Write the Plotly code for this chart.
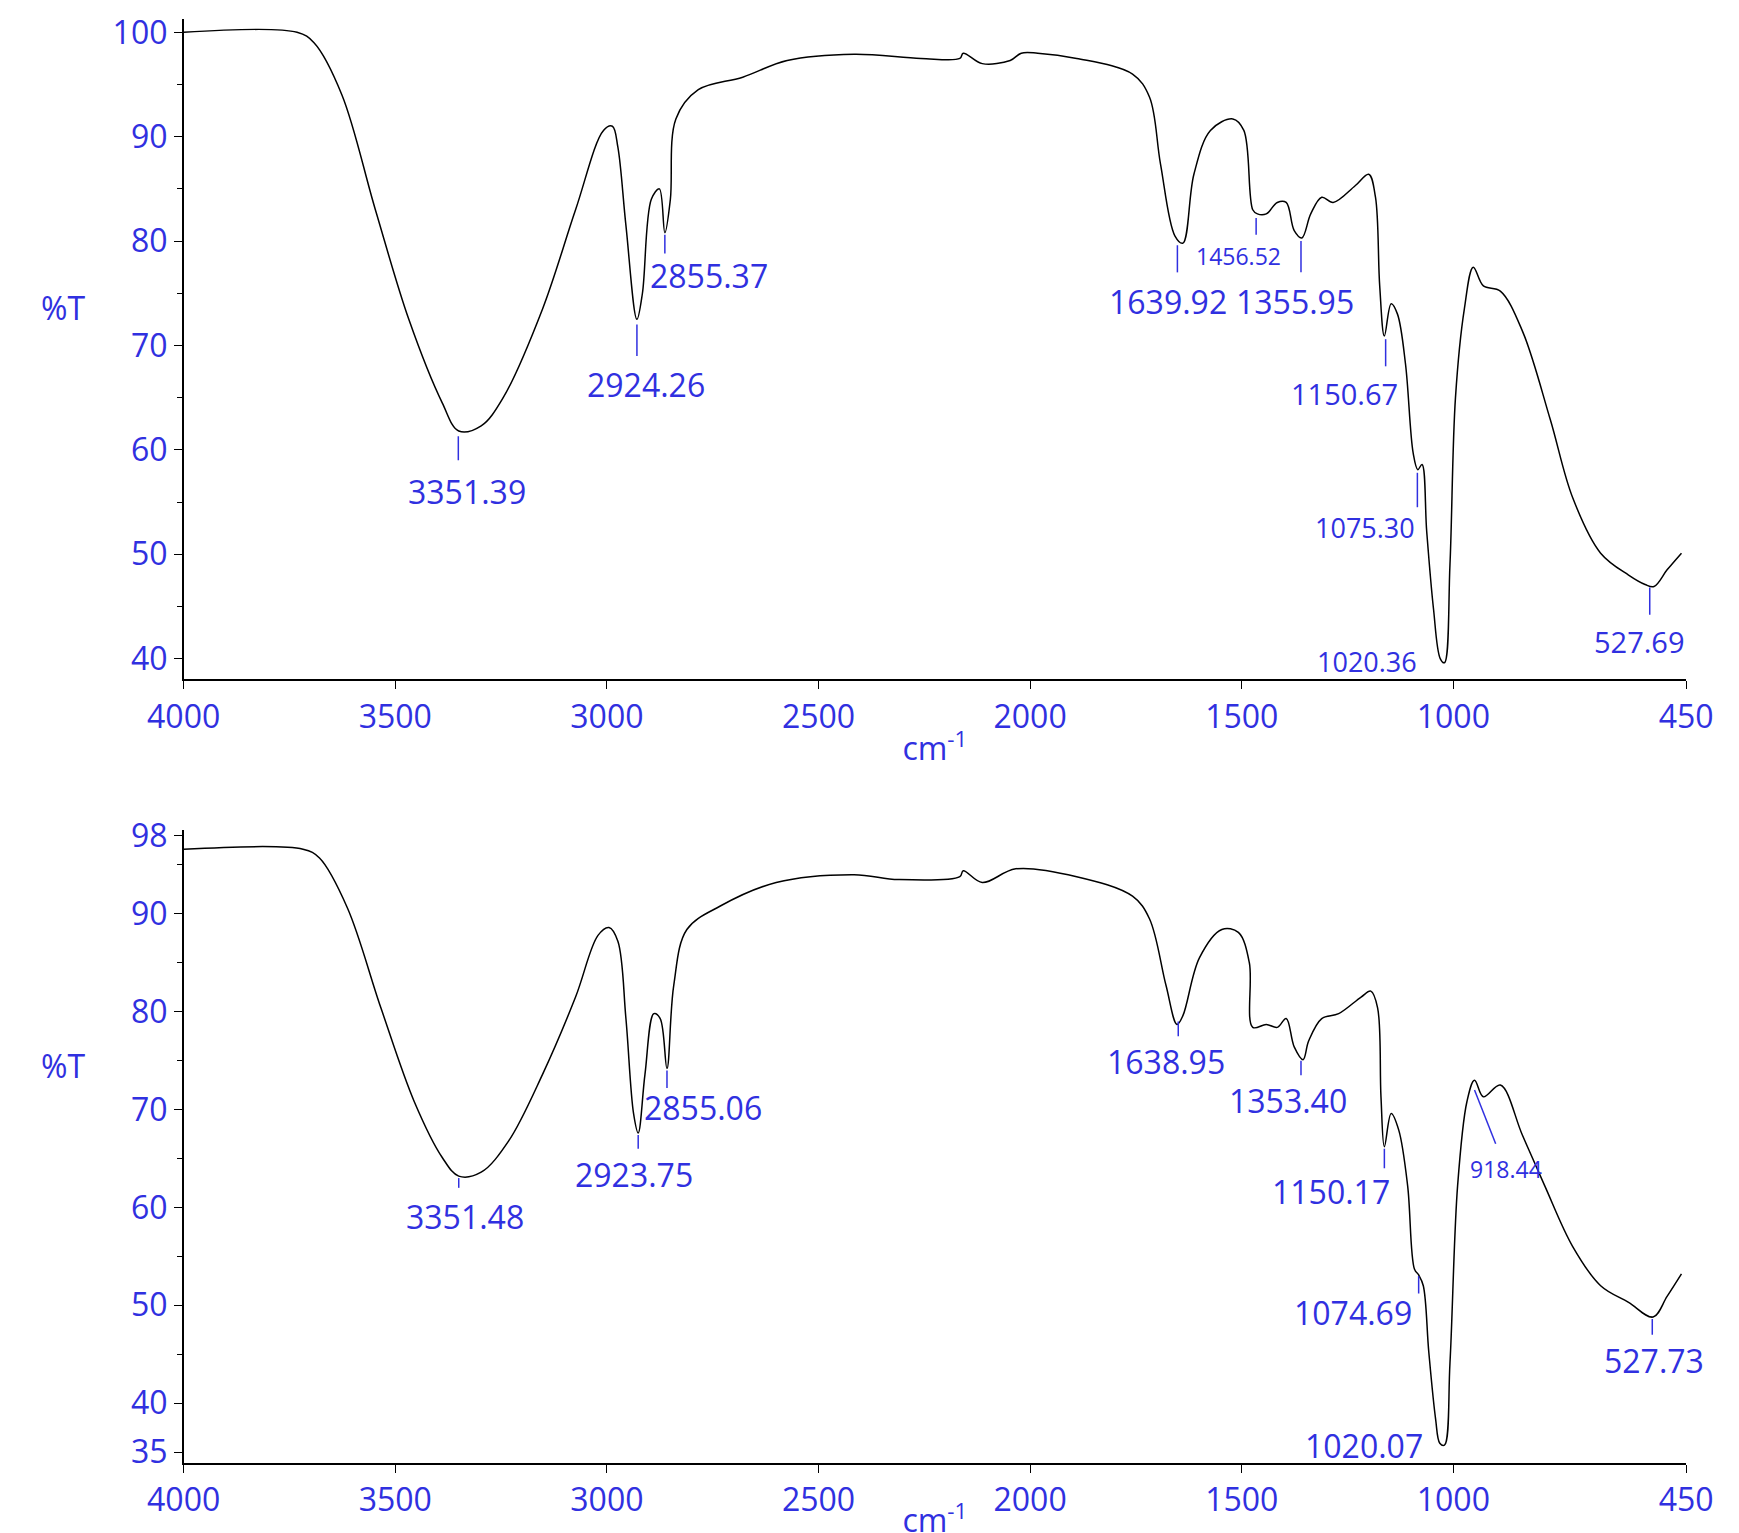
import plotly.graph_objects as go
from plotly.subplots import make_subplots

# wavenumber (cm-1) and transmittance (%T)
wn_top = [4000, 3732, 3692, 3626, 3547, 3468, 3389, 3350, 3297, 3245, 3152, 3074, 3008, 2987, 2974,
          2955, 2929, 2916, 2895, 2876, 2863, 2850, 2837, 2784, 2679, 2574, 2416, 2258, 2166, 2158,
          2113, 2047, 2021, 1982, 1890, 1758, 1718, 1692, 1658, 1639, 1613, 1574, 1521, 1495, 1474,
          1463, 1442, 1416, 1395, 1376, 1358, 1337, 1311, 1284, 1232, 1200, 1184, 1174, 1163, 1147,
          1132, 1113, 1095, 1084, 1074, 1063, 1047, 1031, 1021, 1008, 995, 974, 953, 929, 889,
          837, 771, 718, 652, 586, 547, 526, 495, 461]
t_top = [100, 100, 99, 94, 83, 72.5, 64.5, 61.8, 62.3, 65, 73.5, 83, 90.6, 91, 89,
         81.5, 72.5, 75, 84, 85, 80.8, 84, 91.7, 94.5, 95.7, 97.3, 97.9, 97.5, 97.5, 98,
         97, 97.3, 98, 98, 97.5, 96, 93.8, 87.4, 80.5, 79.8, 86.4, 90.6, 91.7, 90.6, 83,
         82.6, 82.6, 83.7, 83.7, 81, 80.3, 82.6, 84.2, 83.7, 85.3, 86.4, 84.2, 75.7, 70.9, 74,
         73, 68.2, 59.7, 58.1, 58.6, 52.2, 44.8, 40, 39.6, 49, 65, 73.5, 77.5, 75.7, 75.2,
         71.4, 62.9, 55.4, 50.1, 48, 47.1, 46.9, 48.5, 50.1]

wn_bot = [4000, 3718, 3679, 3613, 3534, 3455, 3389, 3350, 3297, 3232, 3152, 3074, 3021, 2995, 2974,
          2955, 2937, 2926, 2910, 2889, 2874, 2858, 2842, 2811, 2732, 2600, 2416, 2311, 2166, 2158,
          2113, 2034, 1890, 1758, 1718, 1679, 1653, 1639, 1600, 1547, 1508, 1482, 1474, 1442, 1416,
          1395, 1376, 1355, 1342, 1311, 1271, 1218, 1195, 1179, 1171, 1163, 1147, 1129, 1108, 1092,
          1082, 1071, 1058, 1042, 1032, 1021, 1008, 990, 968, 950, 929, 889, 837, 784, 718,
          652, 586, 528, 495, 461]
t_bot = [96.6, 96.6, 95.7, 90.6, 80.4, 70.8, 65.1, 63.2, 63.6, 66.8, 73.6, 81.5, 87.8, 88.6, 87.2,
         79.3, 69.6, 67.6, 73.6, 79.8, 79.3, 74.2, 82.7, 88.4, 90.8, 93.2, 94, 93.5, 93.8, 94.4,
         93.2, 94.6, 93.8, 91.8, 89.5, 82.7, 78.7, 79.6, 85.5, 88.4, 88.1, 85, 78.4, 78.7, 78.4,
         79.3, 76.4, 75.1, 77, 79.3, 79.8, 81.5, 82.1, 80.4, 71.3, 66.2, 69.6, 67.9, 62.2, 53.7,
         53.1, 52, 45.2, 38.4, 35.9, 35.7, 44.1, 62.2, 70.8, 73, 71.3, 72.5, 67.4, 62.2, 56,
         52, 50.3, 48.8, 50.9, 53.2]

# peak labels: (label, line x, line y0, line y1, text x, text y, size, anchor)
peaks_top = [
    ("3351.39", 3351, 61.3, 59.0, 3330, 58.3, 32, "center"),
    ("2924.26", 2929, 72.0, 69.0, 2908, 68.5, 32, "center"),
    ("2855.37", 2863, 80.6, 78.8, 2903, 79.0, 32, "left"),
    ("1639.92", 1652, 79.6, 77.0, 1675, 76.5, 32, "center"),
    ("1456.52", 1466, 82.2, 80.6, 1508, 80.3, 23, "center"),
    ("1355.95", 1360, 80.0, 77.0, 1375, 76.5, 32, "center"),
    ("1150.67", 1160, 70.6, 68.0, 1257, 67.5, 29, "center"),
    ("1075.30", 1085, 57.8, 54.5, 1208, 54.5, 27, "center"),
    ("1020.36", 1024, 39.8, 39.5, 1205, 39.7, 27, "center"),
    ("527.69", 536, 46.8, 44.2, 560, 43.7, 29, "center"),
]
peaks_bot = [
    ("3351.48", 3350, 63.0, 62.0, 3336, 61.5, 32, "center"),
    ("2923.75", 2926, 67.4, 66.0, 2937, 65.8, 32, "center"),
    ("2855.06", 2858, 74.0, 72.2, 2916, 72.6, 32, "left"),
    ("1638.95", 1650, 79.0, 77.5, 1680, 77.3, 32, "center"),
    ("1353.40", 1360, 75.0, 73.5, 1390, 73.3, 32, "center"),
    ("1150.17", 1163, 66.0, 64.0, 1290, 64.0, 32, "center"),
    ("918.44", 950, 72.0, 66.5, 876, 65.8, 23, "center"),
    ("1074.69", 1082, 53.0, 51.2, 1237, 51.7, 32, "center"),
    ("1020.07", 1024, 35.6, 35.5, 1210, 35.7, 32, "center"),
    ("527.73", 530, 48.6, 47.0, 526, 46.8, 32, "center"),
]

BLUE = "#3030e0"
FONT = "Open Sans"

fig = make_subplots(rows=2, cols=1, vertical_spacing=0.1)
fig.add_trace(go.Scatter(x=wn_top, y=t_top, mode="lines", line=dict(color="black", width=1.5),
                         line_shape="spline", showlegend=False), row=1, col=1)
fig.add_trace(go.Scatter(x=wn_bot, y=t_bot, mode="lines", line=dict(color="black", width=1.5),
                         line_shape="spline", showlegend=False), row=2, col=1)

for i, peaks in ((1, peaks_top), (2, peaks_bot)):
    xr = "x" if i == 1 else "x2"
    yr = "y" if i == 1 else "y2"
    for lab, lx, y0, y1, tx, ty, size, anch in peaks:
        if y0 - y1 > 0.5:
            x1 = 900 if lab == "918.44" else lx
            fig.add_shape(type="line", xref=xr, yref=yr, x0=lx, x1=x1, y0=y0, y1=y1,
                          line=dict(color=BLUE, width=1.5))
        yanch = "middle" if lab.startswith("1020") else "top"
        fig.add_annotation(xref=xr, yref=yr, x=tx, y=ty, text=lab, showarrow=False,
                           xanchor=anch, yanchor=yanch, font=dict(family=FONT, size=size, color=BLUE))

axis_common = dict(showline=True, linecolor="black", linewidth=1.5, showgrid=False, zeroline=False,
                   ticks="outside", ticklen=8, tickcolor="black", automargin=False,
                   tickfont=dict(family=FONT, size=32, color=BLUE))

xticks = [4000, 3500, 3000, 2500, 2000, 1500, 1000, 450]
fig.update_xaxes(range=[4000, 450], tickvals=xticks, ticktext=[str(v) for v in xticks],
                 title=dict(text="cm<sup>-1</sup>", font=dict(family=FONT, size=32, color=BLUE), standoff=2),
                 **axis_common)
fig.update_xaxes(domain=[0.101, 0.965], row=1, col=1)
fig.update_xaxes(domain=[0.101, 0.965], row=2, col=1)

fig.update_yaxes(range=[38, 101.3], tickvals=[40, 50, 60, 70, 80, 90, 100], domain=[0.562, 0.993],
                 minor=dict(dtick=5, ticklen=5, tickcolor="black", ticks="outside"),
                 row=1, col=1, **axis_common)
fig.update_yaxes(range=[33.9, 98.6], tickvals=[35, 40, 50, 60, 70, 80, 90, 98], domain=[0.051, 0.464],
                 minor=dict(tickvals=[45, 55, 65, 75, 85, 95], ticklen=5, tickcolor="black", ticks="outside"),
                 row=2, col=1, **axis_common)

for yy in (0.82, 0.295):
    fig.add_annotation(xref="paper", yref="paper", x=0.018, y=yy, text="%T", showarrow=False,
                       xanchor="left", font=dict(family=FONT, size=32, color=BLUE))

fig.update_layout(width=1739, height=1533, margin=dict(l=0, r=0, t=0, b=0, autoexpand=False),
                  plot_bgcolor="white", paper_bgcolor="white")

fig.write_html("out.html")
